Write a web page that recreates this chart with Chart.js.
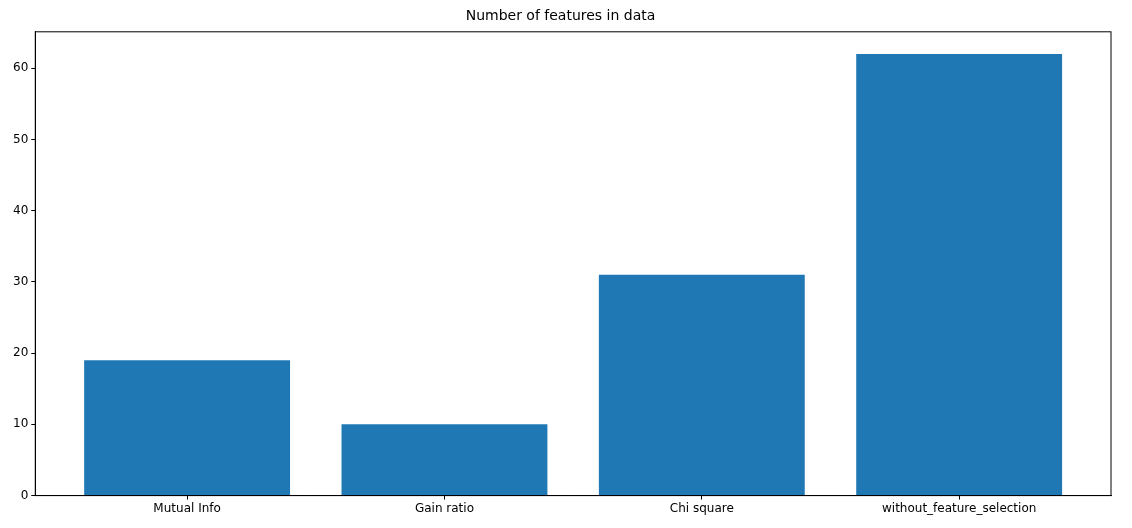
<!DOCTYPE html>
<html lang="en">
<head>
<meta charset="UTF-8">
<title>Number of features in data</title>
<script src="https://cdn.jsdelivr.net/npm/chart.js"></script>
<style>
  html, body { margin: 0; padding: 0; background: #fff; }
  #wrap { width: 1132px; height: 528px; }
</style>
</head>
<body>
<div id="wrap"><canvas id="chart"></canvas></div>
<script>
const categories = ['Mutual Info', 'Gain ratio', 'Chi square', 'without_feature_selection'];
const featureCounts = [19, 10, 31, 62];
const yTicks = [0, 10, 20, 30, 40, 50, 60];

Chart.defaults.font.family = 'DejaVu Sans';
Chart.defaults.font.size = 12;
Chart.defaults.color = '#000';

const points = featureCounts.map((v, i) => ({ x: i, y: v }));

new Chart(document.getElementById('chart'), {
  type: 'bar',
  data: {
    datasets: [{
      data: points,
      backgroundColor: '#1f77b4',
      barPercentage: 0.8,
      categoryPercentage: 1.0
    }]
  },
  options: {
    responsive: true,
    maintainAspectRatio: false,
    animation: false,
    layout: { padding: { left: 10, right: 21, top: 0, bottom: 10 } },
    plugins: {
      legend: { display: false },
      tooltip: { enabled: false },
      title: {
        display: true,
        text: 'Number of features in data',
        font: { size: 14, weight: 'normal' },
        padding: { top: 8, bottom: 7 }
      }
    },
    scales: {
      x: {
        type: 'linear',
        offset: false,
        min: -0.59,
        max: 3.59,
        afterBuildTicks: s => { s.ticks = categories.map((c, i) => ({ value: i })); },
        ticks: { callback: v => categories[v], maxRotation: 0, autoSkip: false, padding: 2 },
        grid: { offset: false, drawOnChartArea: false, tickLength: 4, color: '#000' },
        border: { color: '#000' }
      },
      y: {
        min: 0,
        max: 65.1,
        afterBuildTicks: s => { s.ticks = yTicks.map(v => ({ value: v })); },
        ticks: { padding: 3 },
        grid: { drawOnChartArea: false, tickLength: 4, color: '#000' },
        border: { color: '#000' }
      }
    }
  },
  plugins: [{
    id: 'frame',
    afterDraw(c) {
      const a = c.chartArea, ctx = c.ctx;
      ctx.save();
      ctx.strokeStyle = '#000';
      ctx.lineWidth = 1;
      ctx.strokeRect(a.left, a.top, a.right - a.left, a.bottom - a.top);
      ctx.restore();
    }
  }]
});
</script>
</body>
</html>
